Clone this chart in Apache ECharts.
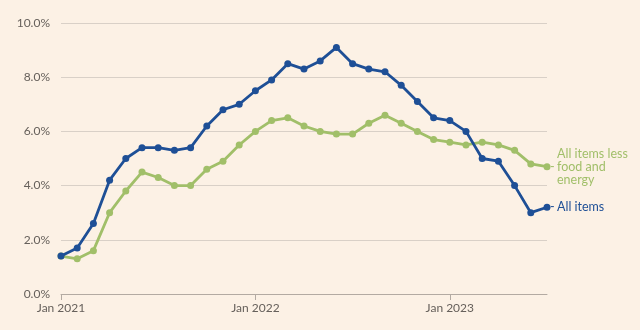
<!DOCTYPE html>
<html>
<head>
<meta charset="utf-8">
<script src="https://cdn.jsdelivr.net/npm/echarts@6/dist/echarts.min.js"></script>
<style>
html,body{margin:0;padding:0;background:#FCF1E5;}
#c{width:640px;height:330px;}
</style>
</head>
<body>
<div id="c"></div>
<script>
const months = ['Jan 2021','Feb 2021','Mar 2021','Apr 2021','May 2021','Jun 2021','Jul 2021','Aug 2021','Sep 2021','Oct 2021','Nov 2021','Dec 2021',
  'Jan 2022','Feb 2022','Mar 2022','Apr 2022','May 2022','Jun 2022','Jul 2022','Aug 2022','Sep 2022','Oct 2022','Nov 2022','Dec 2022',
  'Jan 2023','Feb 2023','Mar 2023','Apr 2023','May 2023','Jun 2023','Jul 2023'];
const allItems = [1.4,1.7,2.6,4.2,5.0,5.4,5.4,5.3,5.4,6.2,6.8,7.0,
  7.5,7.9,8.5,8.3,8.6,9.1,8.5,8.3,8.2,7.7,7.1,6.5,
  6.4,6.0,5.0,4.9,4.0,3.0,3.2];
const core = [1.4,1.3,1.6,3.0,3.8,4.5,4.3,4.0,4.0,4.6,4.9,5.5,
  6.0,6.4,6.5,6.2,6.0,5.9,5.9,6.3,6.6,6.3,6.0,5.7,
  5.6,5.5,5.6,5.5,5.3,4.8,4.7];
const seriesNames = ['All items less food and energy','All items'];
const yTicks = [0,2,4,6,8,10];

const BLUE = '#1E4F96';
const GREEN = '#A1BF69';
const TXT = '#66605B';
const FONT = 'Lato, "Open Sans", sans-serif';

const chart = echarts.init(document.getElementById('c'));
chart.setOption({
  backgroundColor: '#FCF1E5',
  animation: false,
  grid: {left: 61, right: 93, top: 23, bottom: 36, containLabel: false},
  xAxis: {
    type: 'category',
    data: months,
    boundaryGap: false,
    axisLine: {show: true, lineStyle: {color: '#B3AAA2', width: 1}},
    axisTick: {show: true, length: 6, lineStyle: {color: '#B3AAA2'},
      interval: function(i){ return i % 12 === 0; }},
    axisLabel: {color: TXT, fontFamily: FONT, fontSize: 12, margin: 8,
      interval: function(i){ return i % 12 === 0; }},
    splitLine: {show: false}
  },
  yAxis: {
    type: 'value',
    min: yTicks[0], max: yTicks[yTicks.length - 1], interval: 2,
    axisLine: {show: false},
    axisTick: {show: false},
    axisLabel: {color: TXT, fontFamily: FONT, fontSize: 12, margin: 11,
      formatter: function(v){ return v.toFixed(1) + '%'; }},
    splitLine: {show: true, lineStyle: {color: '#D9D0C7', width: 1}}
  },
  series: [
    {
      name: seriesNames[0],
      type: 'line',
      data: core,
      symbol: 'circle',
      symbolSize: 7,
      showAllSymbol: true,
      lineStyle: {color: GREEN, width: 2.8},
      itemStyle: {color: GREEN},
      endLabel: {
        show: true,
        distance: 3,
        formatter: '{s|}{t|All items less}\n{d|-}{t|food and}\n{s|}{t|energy}',
        rich: {
          t: {color: GREEN, fontFamily: FONT, fontSize: 12.5, lineHeight: 13},
          d: {color: GREEN, fontFamily: FONT, fontSize: 12.5, width: 7, lineHeight: 13},
          s: {width: 7, lineHeight: 13}
        }
      },
      z: 2
    },
    {
      name: seriesNames[1],
      type: 'line',
      data: allItems,
      symbol: 'circle',
      symbolSize: 7,
      showAllSymbol: true,
      lineStyle: {color: BLUE, width: 2.8},
      itemStyle: {color: BLUE},
      endLabel: {
        show: true,
        distance: 3,
        formatter: '{d|-}{t|All items}',
        rich: {
          t: {color: BLUE, fontFamily: FONT, fontSize: 12.5},
          d: {color: BLUE, fontFamily: FONT, fontSize: 12.5, width: 7}
        }
      },
      z: 3
    }
  ]
});
</script>
</body>
</html>
